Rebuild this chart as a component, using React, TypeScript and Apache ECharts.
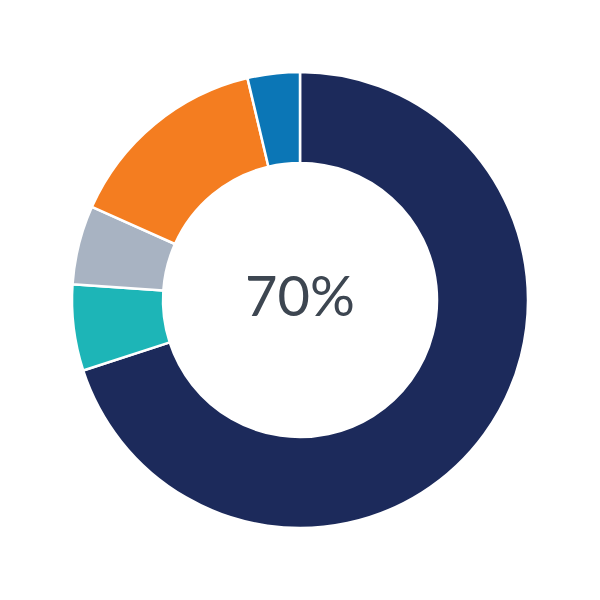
import React, { useEffect, useRef } from "react";
import * as echarts from "echarts";

const categories = ["A", "B", "C", "D", "E"];
const values = [70, 6.1, 5.6, 14.6, 3.7];
const colors = ["#1c2a5b", "#1db5b7", "#a8b3c2", "#f47d20", "#0b76b6"];
const centerLabel = "70%";

export default function App() {
  const ref = useRef<HTMLDivElement>(null);
  useEffect(() => {
    if (!ref.current) return;
    const chart = echarts.init(ref.current, null, { renderer: "svg" });
    chart.setOption({
      animation: false,
      backgroundColor: "#ffffff",
      graphic: [
        {
          type: "text",
          x: 300,
          y: 294,
          style: {
            text: centerLabel,
            fontFamily: "Lato",
            fontWeight: 400,
            fontSize: 56,
            fill: "#3d4651",
            textAlign: "center",
            textVerticalAlign: "middle",
          },
        },
      ],
      series: [
        {
          type: "pie",
          center: [300, 300],
          radius: [137, 228],
          startAngle: 90,
          clockwise: true,
          label: { show: false },
          labelLine: { show: false },
          silent: true,
          itemStyle: { borderColor: "#ffffff", borderWidth: 2.5 },
          data: categories.map((c, i) => ({
            name: c,
            value: values[i],
            itemStyle: { color: colors[i] },
          })),
        },
      ],
    });
    return () => chart.dispose();
  }, []);
  return (
    <div
      ref={ref}
      style={{ position: "fixed", left: 0, top: 0, width: 600, height: 600 }}
    />
  );
}
